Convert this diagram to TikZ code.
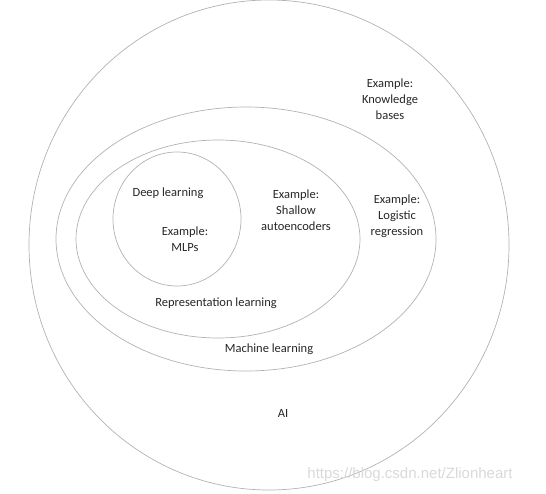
\documentclass[tikz,border=0pt]{standalone}
\usepackage{fontspec}
\setmainfont{Carlito}
\newfontfamily\markfont{Liberation Sans}

\newcommand*{\wpic}{546}
\newcommand*{\hpic}{493}

\begin{document}
\begin{tikzpicture}
[
	x=1pt,y=-1pt,
	set/.style={draw=black!30,line width=0.7pt},
	lbl/.style={align=center,font=\fontsize{12.5}{16}\selectfont,text=black!85,inner sep=0pt},
]

	\useasboundingbox (0,0) rectangle (\wpic,\hpic);

	% the nested sets
	\draw[set] (269,245) ellipse [x radius=240,y radius=245];
	\draw[set] (246,239) ellipse [x radius=190,y radius=132];
	\draw[set] (218,239) ellipse [x radius=142,y radius=99];
	\draw[set] (177,219) ellipse [x radius=64,y radius=67];

	% labels
	\node[lbl] (kb) at (390,99) {Example:\\Knowledge\\bases};
	\node[lbl] (deep) at (168,193) {Deep learning};
	\node[lbl] (mlp) at (185,239) {Example:\\MLPs};
	\node[lbl] (auto) at (296,210) {Example:\\Shallow\\autoencoders};
	\node[lbl] (logit) at (397,216) {Example:\\Logistic\\regression};
	\node[lbl] (repr) at (216,303) {Representation learning};
	\node[lbl] (ml) at (269,349) {Machine learning};
	\node[lbl] (ai) at (283,413) {AI};

	% watermark
	\node[font=\fontsize{15}{16}\markfont,text=black!15,inner sep=0pt] (wm) at (410,475) {https://blog.csdn.net/Zlionheart};

\end{tikzpicture}
\end{document}
